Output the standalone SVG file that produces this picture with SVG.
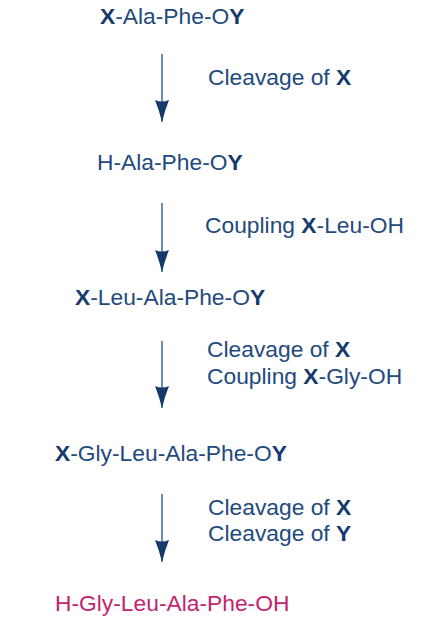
<svg xmlns="http://www.w3.org/2000/svg" width="427" height="624" viewBox="0 0 427 624">
<defs>
<style>
text{font-family:"Liberation Sans",Arial,sans-serif;font-size:22.8px;fill:#234a7c}
.b{font-weight:bold;fill:#163a6c}
.pink{fill:#c4246e}
.stem{stroke:#6c8cb0;stroke-width:2;fill:none}
</style>
<marker id="head" markerUnits="userSpaceOnUse" viewBox="0 0 22 14" markerWidth="22" markerHeight="14" refX="22" refY="7" orient="auto">
<path d="M0,0 Q10,4 22,7 Q10,10 0,14 Q3,7 0,0 Z" fill="#15396b"/>
</marker>
</defs>
<rect width="427" height="624" fill="#ffffff"/>
<g id="connectors">
<line class="stem" x1="162" y1="54" x2="162" y2="122" marker-end="url(#head)"/>
<line class="stem" x1="162" y1="203" x2="162" y2="272" marker-end="url(#head)"/>
<line class="stem" x1="162" y1="341" x2="162" y2="408" marker-end="url(#head)"/>
<line class="stem" x1="162" y1="494" x2="162" y2="562" marker-end="url(#head)"/>
</g>
<g id="n1"><text x="100" y="24"><tspan class="b">X</tspan>-Ala-Phe-O<tspan class="b">Y</tspan></text></g>
<g id="s1"><text x="208" y="85">Cleavage of <tspan class="b">X</tspan></text></g>
<g id="n2"><text x="97" y="170">H-Ala-Phe-O<tspan class="b">Y</tspan></text></g>
<g id="s2"><text x="205" y="233">Coupling <tspan class="b">X</tspan>-Leu-OH</text></g>
<g id="n3"><text x="75" y="305"><tspan class="b">X</tspan>-Leu-Ala-Phe-O<tspan class="b">Y</tspan></text></g>
<g id="s3"><text x="207" y="357">Cleavage of <tspan class="b">X</tspan></text><text x="207" y="384">Coupling <tspan class="b">X</tspan>-Gly-OH</text></g>
<g id="n4"><text x="55" y="461"><tspan class="b">X</tspan>-Gly-Leu-Ala-Phe-O<tspan class="b">Y</tspan></text></g>
<g id="s4"><text x="208" y="515">Cleavage of <tspan class="b">X</tspan></text><text x="208" y="541">Cleavage of <tspan class="b">Y</tspan></text></g>
<g id="n5"><text class="pink" x="55" y="611">H-Gly-Leu-Ala-Phe-OH</text></g>
</svg>
